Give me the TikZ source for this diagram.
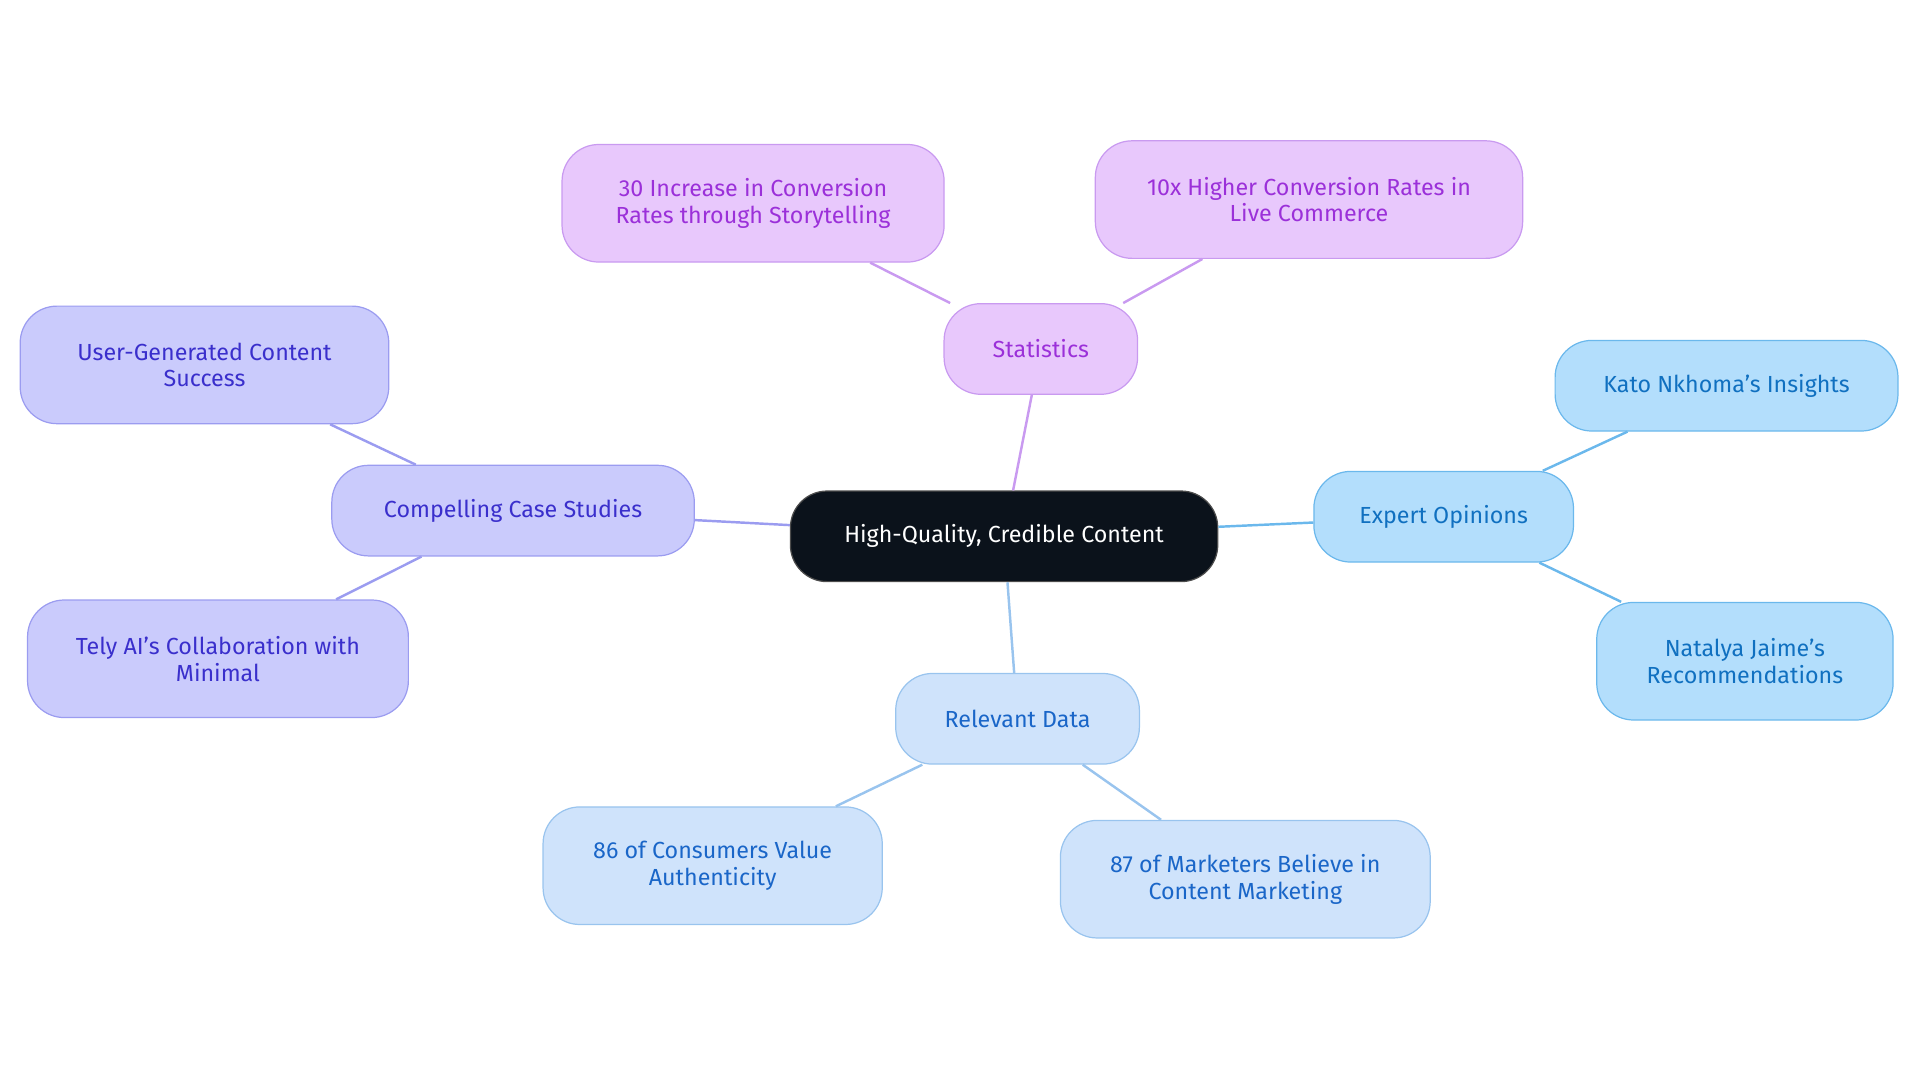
\documentclass[tikz,border=0pt]{standalone}
\usepackage{fontspec}
\setmainfont{Fira Sans}
\begin{document}
\begin{tikzpicture}[x=1pt,y=-1pt,
 box/.style={rounded corners=30pt,line width=1pt,align=center,font=\fontsize{19}{22}\selectfont,inner sep=0pt},
 c/.style={box,fill=cfill,draw=cline,text=ctext},
 s/.style={box,fill=sfill,draw=sline,text=stext},
 e/.style={box,fill=efill,draw=eline,text=etext},
 r/.style={box,fill=rfill,draw=rline,text=rtext},
 ln/.style={line width=2pt}]
\definecolor{cfill}{HTML}{CACBFC}\definecolor{cline}{HTML}{9B9CF0}\definecolor{ctext}{HTML}{3A2FCC}
\definecolor{sfill}{HTML}{E8C8FC}\definecolor{sline}{HTML}{C99AF0}\definecolor{stext}{HTML}{9B30D9}
\definecolor{efill}{HTML}{B3DEFC}\definecolor{eline}{HTML}{6BB8EC}\definecolor{etext}{HTML}{1070C0}
\definecolor{rfill}{HTML}{CFE3FB}\definecolor{rline}{HTML}{99C4EE}\definecolor{rtext}{HTML}{1A66C8}
\definecolor{mfill}{HTML}{0B121B}
\useasboundingbox (0,0) rectangle (1568,885);
\node[box,fill=mfill,draw=black!70,text=white,minimum width=349pt,minimum height=74pt] (m) at (820,438) {High-Quality, Credible Content};
\node[s,minimum width=158pt,minimum height=74pt] (s) at (850,285) {Statistics};
\node[s,minimum width=312pt,minimum height=96pt] (s1) at (615,166) {30 Increase in Conversion\\Rates through Storytelling};
\node[s,minimum width=349pt,minimum height=96pt] (s2) at (1069,163) {10x Higher Conversion Rates in\\Live Commerce};
\node[c,minimum width=296pt,minimum height=74pt] (c) at (419,417) {Compelling Case Studies};
\node[c,minimum width=301pt,minimum height=96pt] (c1) at (167,298) {User-Generated Content\\Success};
\node[c,minimum width=311pt,minimum height=96pt] (c2) at (178,538) {Tely AI's Collaboration with\\Minimal};
\node[e,minimum width=212pt,minimum height=74pt] (e) at (1179,422) {Expert Opinions};
\node[e,minimum width=280pt,minimum height=74pt] (e1) at (1410,315) {Kato Nkhoma's Insights};
\node[e,minimum width=242pt,minimum height=96pt] (e2) at (1425,540) {Natalya Jaime's\\Recommendations};
\node[r,minimum width=199pt,minimum height=74pt] (r) at (831,587) {Relevant Data};
\node[r,minimum width=277pt,minimum height=96pt] (r1) at (582,707) {86 of Consumers Value\\Authenticity};
\node[r,minimum width=302pt,minimum height=96pt] (r2) at (1017,718) {87 of Marketers Believe in\\Content Marketing};
\draw[ln,sline] (m) -- (s); \draw[ln,sline] (s) -- (s1); \draw[ln,sline] (s) -- (s2);
\draw[ln,cline] (m) -- (c); \draw[ln,cline] (c) -- (c1); \draw[ln,cline] (c) -- (c2);
\draw[ln,eline] (m) -- (e); \draw[ln,eline] (e) -- (e1); \draw[ln,eline] (e) -- (e2);
\draw[ln,rline] (m) -- (r); \draw[ln,rline] (r) -- (r1); \draw[ln,rline] (r) -- (r2);
\end{tikzpicture}
\end{document}
